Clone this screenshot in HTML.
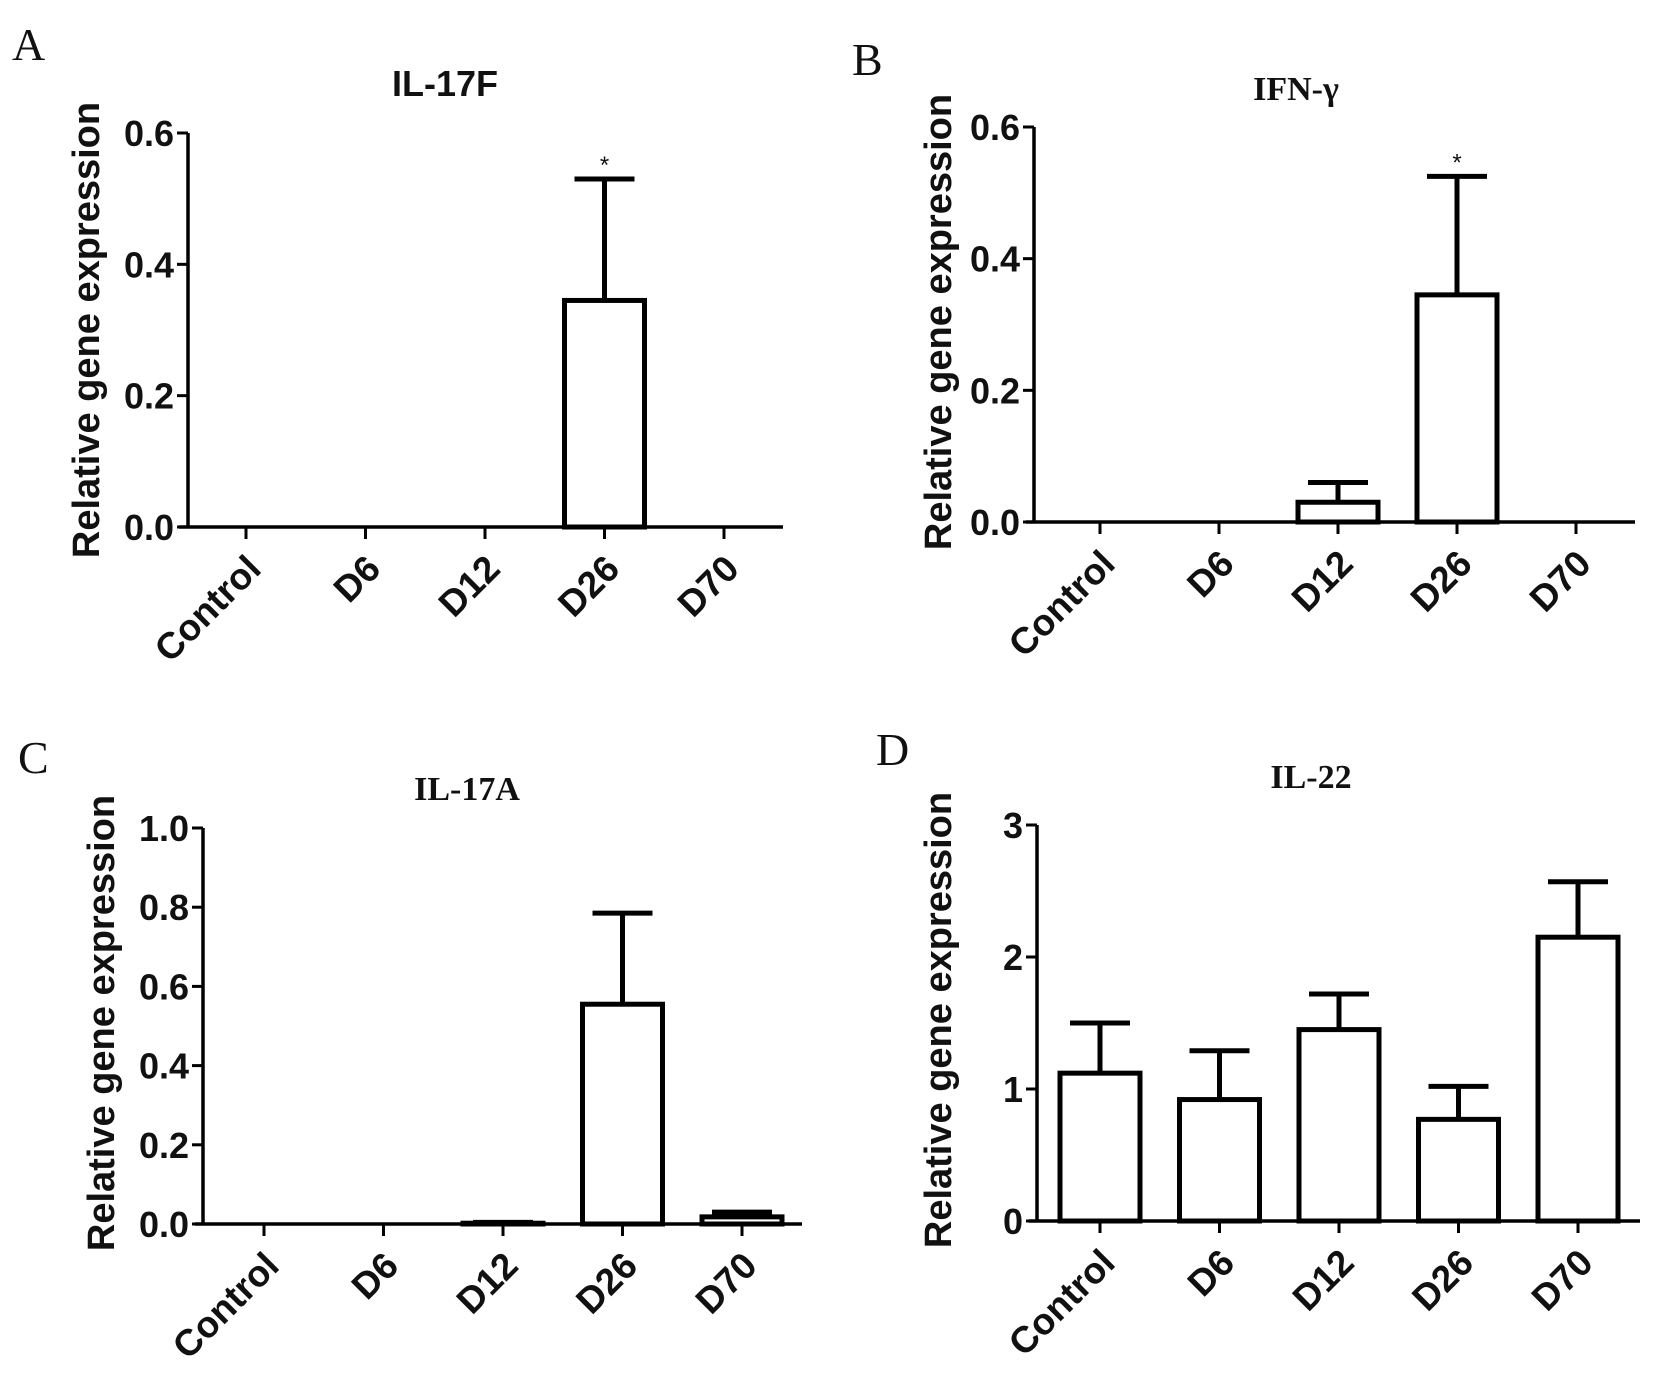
<!DOCTYPE html>
<html><head><meta charset="utf-8"><style>
body{margin:0;background:#fff}
svg{display:block}
text{font-family:"Liberation Sans",Arial,sans-serif;font-weight:bold;fill:#111}
.serif{font-family:"Liberation Serif",serif}
</style></head><body>
<svg id="svg" width="1654" height="1392" viewBox="0 0 1654 1392"></svg>
<script>
const categories = ["Control","D6","D12","D26","D70"];
const il17fValues = [0,0,0,0.345,0];
const il17fErrors = [0,0,0,0.53,0];
const ifngValues = [0,0,0.03,0.345,0];
const ifngErrors = [0,0,0.06,0.525,0];
const il17aValues = [0,0,0.002,0.555,0.018];
const il17aErrors = [0,0,0.004,0.785,0.03];
const il22Values = [1.12,0.92,1.45,0.77,2.15];
const il22Errors = [1.5,1.29,1.72,1.02,2.57];
const il17fTicks = ["0.0","0.2","0.4","0.6"];
const ifngTicks = ["0.0","0.2","0.4","0.6"];
const il17aTicks = ["0.0","0.2","0.4","0.6","0.8","1.0"];
const il22Ticks = ["0","1","2","3"];

const NS="http://www.w3.org/2000/svg";
const svg=document.getElementById('svg');
function mk(tag,attrs,parent,txt){const e=document.createElementNS(NS,tag);for(const k in attrs)e.setAttribute(k,attrs[k]);if(txt!==undefined)e.textContent=txt;(parent||svg).appendChild(e);return e;}

const panels=[
 {id:'a',letter:'A',lx:12,ly:60,title:'IL-17F',tx:445,ty:96,serif:false,ax:188,x0:179,x1:783,yTop:133,yBot:527,max:0.6,ticks:il17fTicks,vals:il17fValues,errs:il17fErrors,cx0:246,dx:119.5,ylx:99,yly:330,stars:[3]},
 {id:'b',letter:'B',lx:852,ly:75,title:'IFN-γ',tx:1296,ty:100,serif:true,ax:1034,x0:1026,x1:1635,yTop:127,yBot:522,max:0.6,ticks:ifngTicks,vals:ifngValues,errs:ifngErrors,cx0:1100,dx:119,ylx:951,yly:322,stars:[3]},
 {id:'c',letter:'C',lx:18,ly:773,title:'IL-17A',tx:467,ty:800,serif:true,ax:203,x0:195,x1:802,yTop:828,yBot:1224,max:1.0,ticks:il17aTicks,vals:il17aValues,errs:il17aErrors,cx0:264,dx:119.5,ylx:114,yly:1023,stars:[]},
 {id:'d',letter:'D',lx:876,ly:765,title:'IL-22',tx:1311,ty:788,serif:true,ax:1037,x0:1029,x1:1640,yTop:825,yBot:1221,max:3,ticks:il22Ticks,vals:il22Values,errs:il22Errors,cx0:1100,dx:119.5,ylx:951,yly:1020,stars:[]}
];
const bw=80;
panels.forEach(p=>{
 const g=mk('g',{});
 
 
 const y=v=>p.yBot-(v/p.max)*(p.yBot-p.yTop);
 const L=mk('text',{x:p.lx,y:p.ly,'font-size':46,'class':'serif','style':'font-weight:normal'},g,p.letter);
 
 
 const T=mk('text',{x:p.tx,y:p.ty,'font-size':p.serif?34:36,'text-anchor':'middle','class':p.serif?'serif':''},g,p.title);
 
 
 const YL=mk('text',{x:0,y:0,'font-size':38,'text-anchor':'middle',transform:`translate(${p.ylx},${p.yly}) rotate(-90)`},g,'Relative gene expression');
 
 
 p.vals.forEach((v,i)=>{
  const cx=p.cx0+i*p.dx;
  const e=p.errs[i];
  if(e>v){
   const el=mk('line',{x1:cx,x2:cx,y1:y(v),y2:y(e),stroke:'#000','stroke-width':5},g);
   
   
   const cap=mk('line',{x1:cx-30,x2:cx+30,y1:y(e),y2:y(e),stroke:'#000','stroke-width':5},g);
   
   
  }
  if(v>0){
   const r=mk('rect',{x:cx-bw/2,y:y(v),width:bw,height:p.yBot-y(v),fill:'#fff',stroke:'#000','stroke-width':5},g);
   
   
  }
  if(p.stars.includes(i)){
   const s=mk('text',{x:cx,y:y(e)-6,'font-size':24,'text-anchor':'middle','style':'font-weight:normal'},g,'*');
   
   
  }
  const tk=mk('line',{x1:cx,x2:cx,y1:p.yBot,y2:p.yBot+12,stroke:'#000','stroke-width':3},g);
  
  
  const lb=mk('text',{x:0,y:0,'font-size':37,'text-anchor':'end',transform:`translate(${cx+17},${p.yBot+44}) rotate(-45)`},g,categories[i]);
  
  
 });
 const ya=mk('line',{x1:p.ax,x2:p.ax,y1:p.yTop,y2:p.yBot,stroke:'#000','stroke-width':3.5},g);
 
 
 const xa=mk('line',{x1:p.x0,x2:p.x1,y1:p.yBot,y2:p.yBot,stroke:'#000','stroke-width':3.5},g);
 
 
 p.ticks.forEach(t=>{
  const yy=y(parseFloat(t));
  const tl=mk('line',{x1:p.ax-11,x2:p.ax,y1:yy,y2:yy,stroke:'#000','stroke-width':3},g);
  
  
  const tt=mk('text',{x:p.ax-14,y:yy+13,'font-size':36,'text-anchor':'end'},g,t);
  
  
 });
});
</script>
</body></html>
